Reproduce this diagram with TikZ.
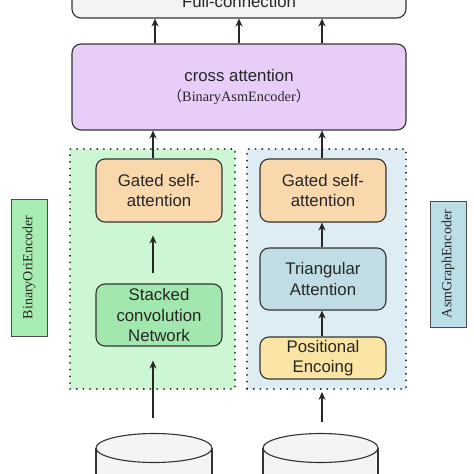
\documentclass[tikz,border=0pt]{standalone}
\usepackage{fontspec}
\setmainfont{Liberation Sans}
\newfontfamily\serifF{Liberation Serif}
\newfontfamily\cjkF{Noto Sans CJK SC}
\usetikzlibrary{arrows.meta}
\definecolor{fcfill}{HTML}{F3F3F3}
\definecolor{cafill}{HTML}{E8CDF9}
\definecolor{rgL}{HTML}{CDF6D3}
\definecolor{rgR}{HTML}{DDEDF3}
\definecolor{gatfill}{HTML}{FAD8AE}
\definecolor{stkfill}{HTML}{A2E8AE}
\definecolor{trifill}{HTML}{C0DDE6}
\definecolor{posfill}{HTML}{FBE5A4}
\definecolor{labL}{HTML}{A8EEB4}
\definecolor{labR}{HTML}{BCDEE7}
\definecolor{cylfill}{HTML}{F4F4F4}
\begin{document}
\begin{tikzpicture}[x=1pt,y=-1pt,
  box/.style={draw=black!80, line width=1.1pt, rounded corners=9pt, align=center, inner sep=0pt,
    font=\fontsize{16.8}{20.5}\selectfont, text=black!85},
  region/.style={draw=black!85, line width=1.9pt, dash pattern=on 0.1pt off 6.6pt, line cap=round, inner sep=0pt},
  arr/.style={-{Stealth[length=8pt,width=7pt]}, line width=1.1pt, draw=black!85},
  lab/.style={draw=black!70, line width=1pt, font=\serifF\fontsize{14}{14}\selectfont, rotate=90, inner sep=0pt, text=black!85}
]
\useasboundingbox (0,0) rectangle (474,474);
\fill[white] (0,0) rectangle (474,474);
\clip (0,0) rectangle (474,474);

% regions
\node[region, fill=rgL, minimum width=165pt, minimum height=240pt] (regL) at (152.5,269) {};
\node[region, fill=rgR, minimum width=159pt, minimum height=240pt] (regR) at (326.5,269) {};

% top boxes
\node[box, fill=fcfill, minimum width=334pt, minimum height=34pt] (fc) at (239,1) {Full-connection};
\node[box, fill=cafill, minimum width=334pt, minimum height=86pt] (ca) at (239,87)
  {cross attention\\[-1pt]{\serifF\fontsize{14.3}{16}\selectfont{\cjkF （}BinaryAsmEncoder{\cjkF ）}}};

% left column
\node[box, fill=gatfill, minimum width=126pt, minimum height=63pt] (gl) at (159,190.5) {Gated self-\\attention};
\node[box, fill=stkfill, minimum width=126pt, minimum height=62pt] (stk) at (159,315) {Stacked\\convolution\\Network};

% right column
\node[box, fill=gatfill, minimum width=126pt, minimum height=63pt] (gr) at (323,190.5) {Gated self-\\attention};
\node[box, fill=trifill, minimum width=126pt, minimum height=62pt] (tri) at (323,279) {Triangular\\Attention};
\node[box, fill=posfill, minimum width=126pt, minimum height=42pt] (pos) at (323,358) {Positional\\Encoing};

% side labels
\node[lab, fill=labL, minimum width=137pt, minimum height=36pt] (lL) at (29,267.5) {BinaryOriEncoder};
\node[lab, fill=labR, minimum width=126pt, minimum height=36pt] (lR) at (448,264) {AsmGraphEncoder};

% cylinders
\draw[line width=1.1pt, draw=black!80, fill=cylfill] (96,448) -- (96,480) -- (212,480) -- (212,448);
\draw[line width=1.1pt, draw=black!80, fill=cylfill] (154,448) ellipse [x radius=58, y radius=14.5];
\draw[line width=1.1pt, draw=black!80, fill=cylfill] (263,448) -- (263,480) -- (378,480) -- (378,448);
\draw[line width=1.1pt, draw=black!80, fill=cylfill] (320.5,448) ellipse [x radius=57.5, y radius=14.5];
\coordinate (cylL) at (153,433.5);
\coordinate (cylR) at (322,433.5);

% arrows
\draw[arr] (ca.north -| 155,0) -- (fc.south -| 155,0);
\draw[arr] (ca.north) -- (fc.south);
\draw[arr] (ca.north -| 322,0) -- (fc.south -| 322,0);
\draw[arr] (gl.north -| 153,0) -- (ca.south -| 153,0);
\draw[arr] (gr.north -| 322,0) -- (ca.south -| 322,0);
\draw[arr, shorten <=10pt, shorten >=13pt] (stk.north -| 153,0) -- (gl.south -| 153,0);
\draw[arr] (tri.north -| 322,0) -- (gr.south -| 322,0);
\draw[arr] (pos.north -| 322,0) -- (tri.south -| 322,0);
\draw[arr, shorten <=16pt, shorten >=14pt] (cylL) -- (stk.south -| cylL);
\draw[arr, shorten <=12pt, shorten >=2pt] (cylR) -- (regR.south -| cylR);
\end{tikzpicture}
\end{document}
